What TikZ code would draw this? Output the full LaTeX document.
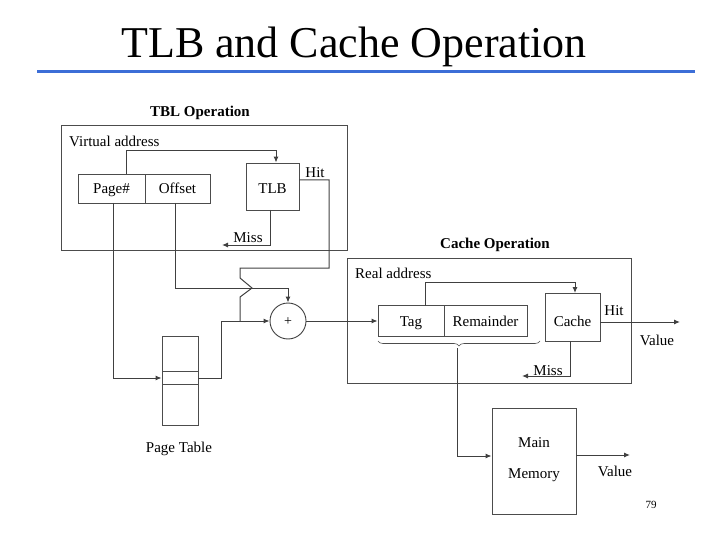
\documentclass[tikz,border=0pt]{standalone}
\usepackage{fontspec}
\setmainfont{Liberation Serif}
\usetikzlibrary{arrows.meta,decorations.pathreplacing}
\begin{document}
\begin{tikzpicture}[x=1pt,y=-1pt,
  box/.style={draw=black!70,line width=0.9pt,inner sep=0pt},
  ln/.style={draw=black!75,line width=1pt},
  ar/.style={ln,-{Latex[length=6pt,width=5pt]}},
  lab/.style={font=\fontsize{15}{17}\selectfont,inner sep=0pt,text height=12pt,text depth=1pt},
  hd/.style={font=\fontsize{15}{17}\selectfont\bfseries,inner sep=0pt,text height=12pt,text depth=1pt}]
\useasboundingbox (0,0) rectangle (720,540);
\node[font=\fontsize{44}{48}\selectfont,inner sep=0pt] (title) at (354,47) {TLB and Cache Operation};
\draw[draw={rgb,255:red,60;green,110;blue,215},line width=3pt] (37,72) -- (695,72);
% TLB part
\node[hd] (tblh) at (200,111) {TBL Operation};
\node[box,minimum width=286pt,minimum height=125pt] (tlbop) at (204,187.5) {};
\node[lab,anchor=west] (va) at (69,141) {Virtual address};
\node[box,minimum width=67pt,minimum height=29pt] (page) at (111.5,188.5) {};
\node[lab] (pagel) at (111.5,188.5) {Page\#};
\node[box,minimum width=65pt,minimum height=29pt] (off) at (177.5,188.5) {};
\node[lab] (offl) at (177.5,188.5) {Offset};
\node[box,minimum width=53pt,minimum height=47pt] (tlb) at (272.5,186.5) {};
\node[lab] (tlbl) at (272.5,188) {TLB};
\node[lab] (hit1) at (315,172) {Hit};
\node[lab] (miss1) at (248,237) {Miss};
\coordinate (m1) at (222,245);
\draw[ar] (126,174) -- (126,151) -- (276,151) -- (tlb.north -| 276,0);
\draw[ar] (270,210) -- (270,245) -- (m1);
% adder
\node[draw=black!75,line width=0.9pt,circle,minimum size=36pt,inner sep=0pt] (add) at (288,321) {};
\node[font=\fontsize{14}{16}\selectfont] (plus) at (288,322) {+};
\draw[ln] (299,180) -- (329,180) -- (329,268) -- (240,268) -- (240,278) -- (252,288) -- (240,297) -- (240,321);
\draw[ar] (175,203) -- (175,288) -- (288,288) -- (add.north);
% page table
\node[box,minimum width=36pt,minimum height=89pt] (pt) at (180,380.5) {};
\node[box,minimum width=36pt,minimum height=13pt] (pte) at (180,378) {};
\node[lab] (ptl) at (179,447) {Page Table};
\draw[ar] (113,203) -- (113,378) -- (pte.west);
\draw[ar] (pte.east) -- (221,378) -- (221,321) -- (add.west);
% cache part
\node[hd] (cah) at (495,243) {Cache Operation};
\node[box,minimum width=284pt,minimum height=125pt] (cop) at (489,320.5) {};
\node[lab,anchor=west] (ra) at (355,273) {Real address};
\node[box,minimum width=66pt,minimum height=31pt] (tag) at (411,321) {};
\node[lab] (tagl) at (411,321) {Tag};
\node[box,minimum width=83pt,minimum height=31pt] (rem) at (485.5,321) {};
\node[lab] (reml) at (485.5,321) {Remainder};
\node[box,minimum width=55pt,minimum height=48pt] (cache) at (572.5,317) {};
\node[lab] (cachel) at (572.5,321) {Cache};
\draw[ar] (add.east) -- (tag.west);
\draw[ar] (425,305.5) -- (425,282) -- (575,282) -- (575,293);
\coordinate (v1) at (680,322);
\draw[ar] (600,322) -- (v1);
\node[lab] (hit2) at (614,310) {Hit};
\node[lab] (val1) at (657,340) {Value};
\coordinate (m2) at (522,376);
\draw[ar] (570,341) -- (570,376) -- (m2);
\node[lab] (miss2) at (548,370) {Miss};
\draw[draw=black!70,line width=0.6pt,decorate,decoration={brace,amplitude=5pt,mirror}] (378,341) -- (540,341);
% main memory
\node[box,minimum width=84pt,minimum height=106pt] (mm) at (534,461) {};
\node[lab] (mm1) at (534,442) {Main};
\node[lab] (mm2) at (534,473) {Memory};
\draw[ar] (457,348) -- (457,456) -- (mm.west |- 0,456);
\coordinate (v2) at (630,455);
\draw[ar] (576,455) -- (v2);
\node[lab] (val2) at (615,471) {Value};
\node[font=\fontsize{11}{13}\selectfont] (pg) at (651,505) {79};
\end{tikzpicture}
\end{document}
